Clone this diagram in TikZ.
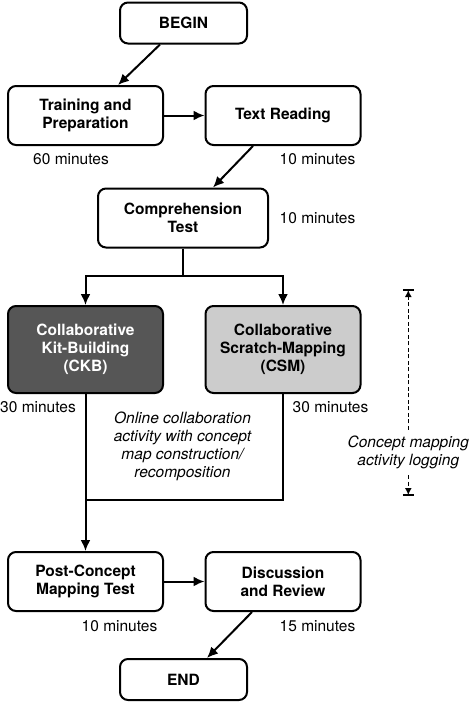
\documentclass[tikz,border=0pt]{standalone}
\usepackage{fontspec}
\setmainfont{TeX Gyre Heros}
\usetikzlibrary{arrows.meta}
\definecolor{ckbgray}{HTML}{565656}
\definecolor{csmgray}{HTML}{CCCCCC}

\begin{document}
\begin{tikzpicture}[x=1pt, y=-1pt,
    every node/.style={font=\fontsize{15.5}{18}\selectfont},
    stepbox/.style={draw, rounded corners=8pt, line width=2pt, align=center,
        minimum width=155pt, minimum height=59pt, inner sep=2pt,
        font=\fontsize{15.5}{18}\selectfont\bfseries},
    flow/.style={line width=2pt, -{Latex[length=11pt,width=10pt]}},
    logline/.style={line width=1.5pt, dash pattern=on 4pt off 2.5pt, -{Latex[length=7pt,width=7pt]}},
    mins/.style={inner sep=0pt}]
            \useasboundingbox (0,0) rectangle (474,702);
            \coordinate (split) at (183,276);
            \coordinate (merge) at (85.5,500);
            \coordinate (logtop) at (408.3,290);
            \coordinate (logbot) at (408.3,495);

            \node[stepbox, minimum width=127pt, minimum height=41pt] (begin) at (183.5,23) {BEGIN};
            \node[stepbox] (train) at (85.5,115.5) {Training and\\Preparation};
            \node[stepbox] (read) at (283,115.5) {Text Reading};
            \node[stepbox, minimum width=170pt] (comp) at (183,218) {Comprehension\\Test};
            \node[stepbox, minimum height=87pt, fill=ckbgray, text=white] (ckb) at (85.5,349.5) {Collaborative\\Kit-Building\\(CKB)};
            \node[stepbox, minimum height=87pt, fill=csmgray] (csm) at (283,349.5) {Collaborative\\Scratch-Mapping\\(CSM)};
            \node[stepbox] (post) at (85.5,581.5) {Post-Concept\\Mapping Test};
            \node[stepbox] (disc) at (283,581.5) {Discussion\\and Review};
            \node[stepbox, minimum width=127pt, minimum height=41pt] (end) at (183.5,679.5) {END};

            \node[mins] (t1) at (71,159) {60 minutes};
            \node[mins] (t2) at (317.5,159) {10 minutes};
            \node[mins] (t3) at (317.5,218) {10 minutes};
            \node[mins] (t4) at (38,407) {30 minutes};
            \node[mins] (t5) at (330.5,407) {30 minutes};
            \node[mins] (t6) at (119.5,626) {10 minutes};
            \node[mins] (t7) at (317.5,626) {15 minutes};

            \node[align=center, inner sep=0pt, font=\fontsize{15.5}{18}\selectfont\itshape] (online) at (182.5,446.5)
                {Online collaboration\\activity with concept\\map construction/\\recomposition};
            \node[align=center, inner sep=6pt, font=\fontsize{15.5}{18}\selectfont\itshape] (logging) at (408.3,452.5)
                {Concept mapping\\activity logging};

            \draw[flow] ([xshift=-23.5pt]begin.south) -- ([xshift=32.5pt]train.north);
            \draw[flow] (train) -- (read);
            \draw[flow] ([xshift=-30pt]read.south) -- ([xshift=30pt]comp.north);
            \draw[line width=2pt] (comp) -- (split);
            \draw[flow] (split) -| (ckb);
            \draw[flow] (split) -| (csm);
            \draw[line width=2pt] (csm) |- (merge);
            \draw[flow] (ckb) -- (post);
            \draw[flow] (post) -- (disc);
            \draw[flow] ([xshift=-31pt]disc.south) -- ([xshift=23.5pt]end.north);

            \draw[logline] (logging) -- (logtop);
            \draw[logline] (logging) -- (logbot);
            \draw[line width=1.8pt] ([xshift=-5.5pt]logtop) -- ([xshift=5.5pt]logtop);
            \draw[line width=1.8pt] ([xshift=-5.5pt]logbot) -- ([xshift=5.5pt]logbot);
        \end{tikzpicture}
\end{document}
